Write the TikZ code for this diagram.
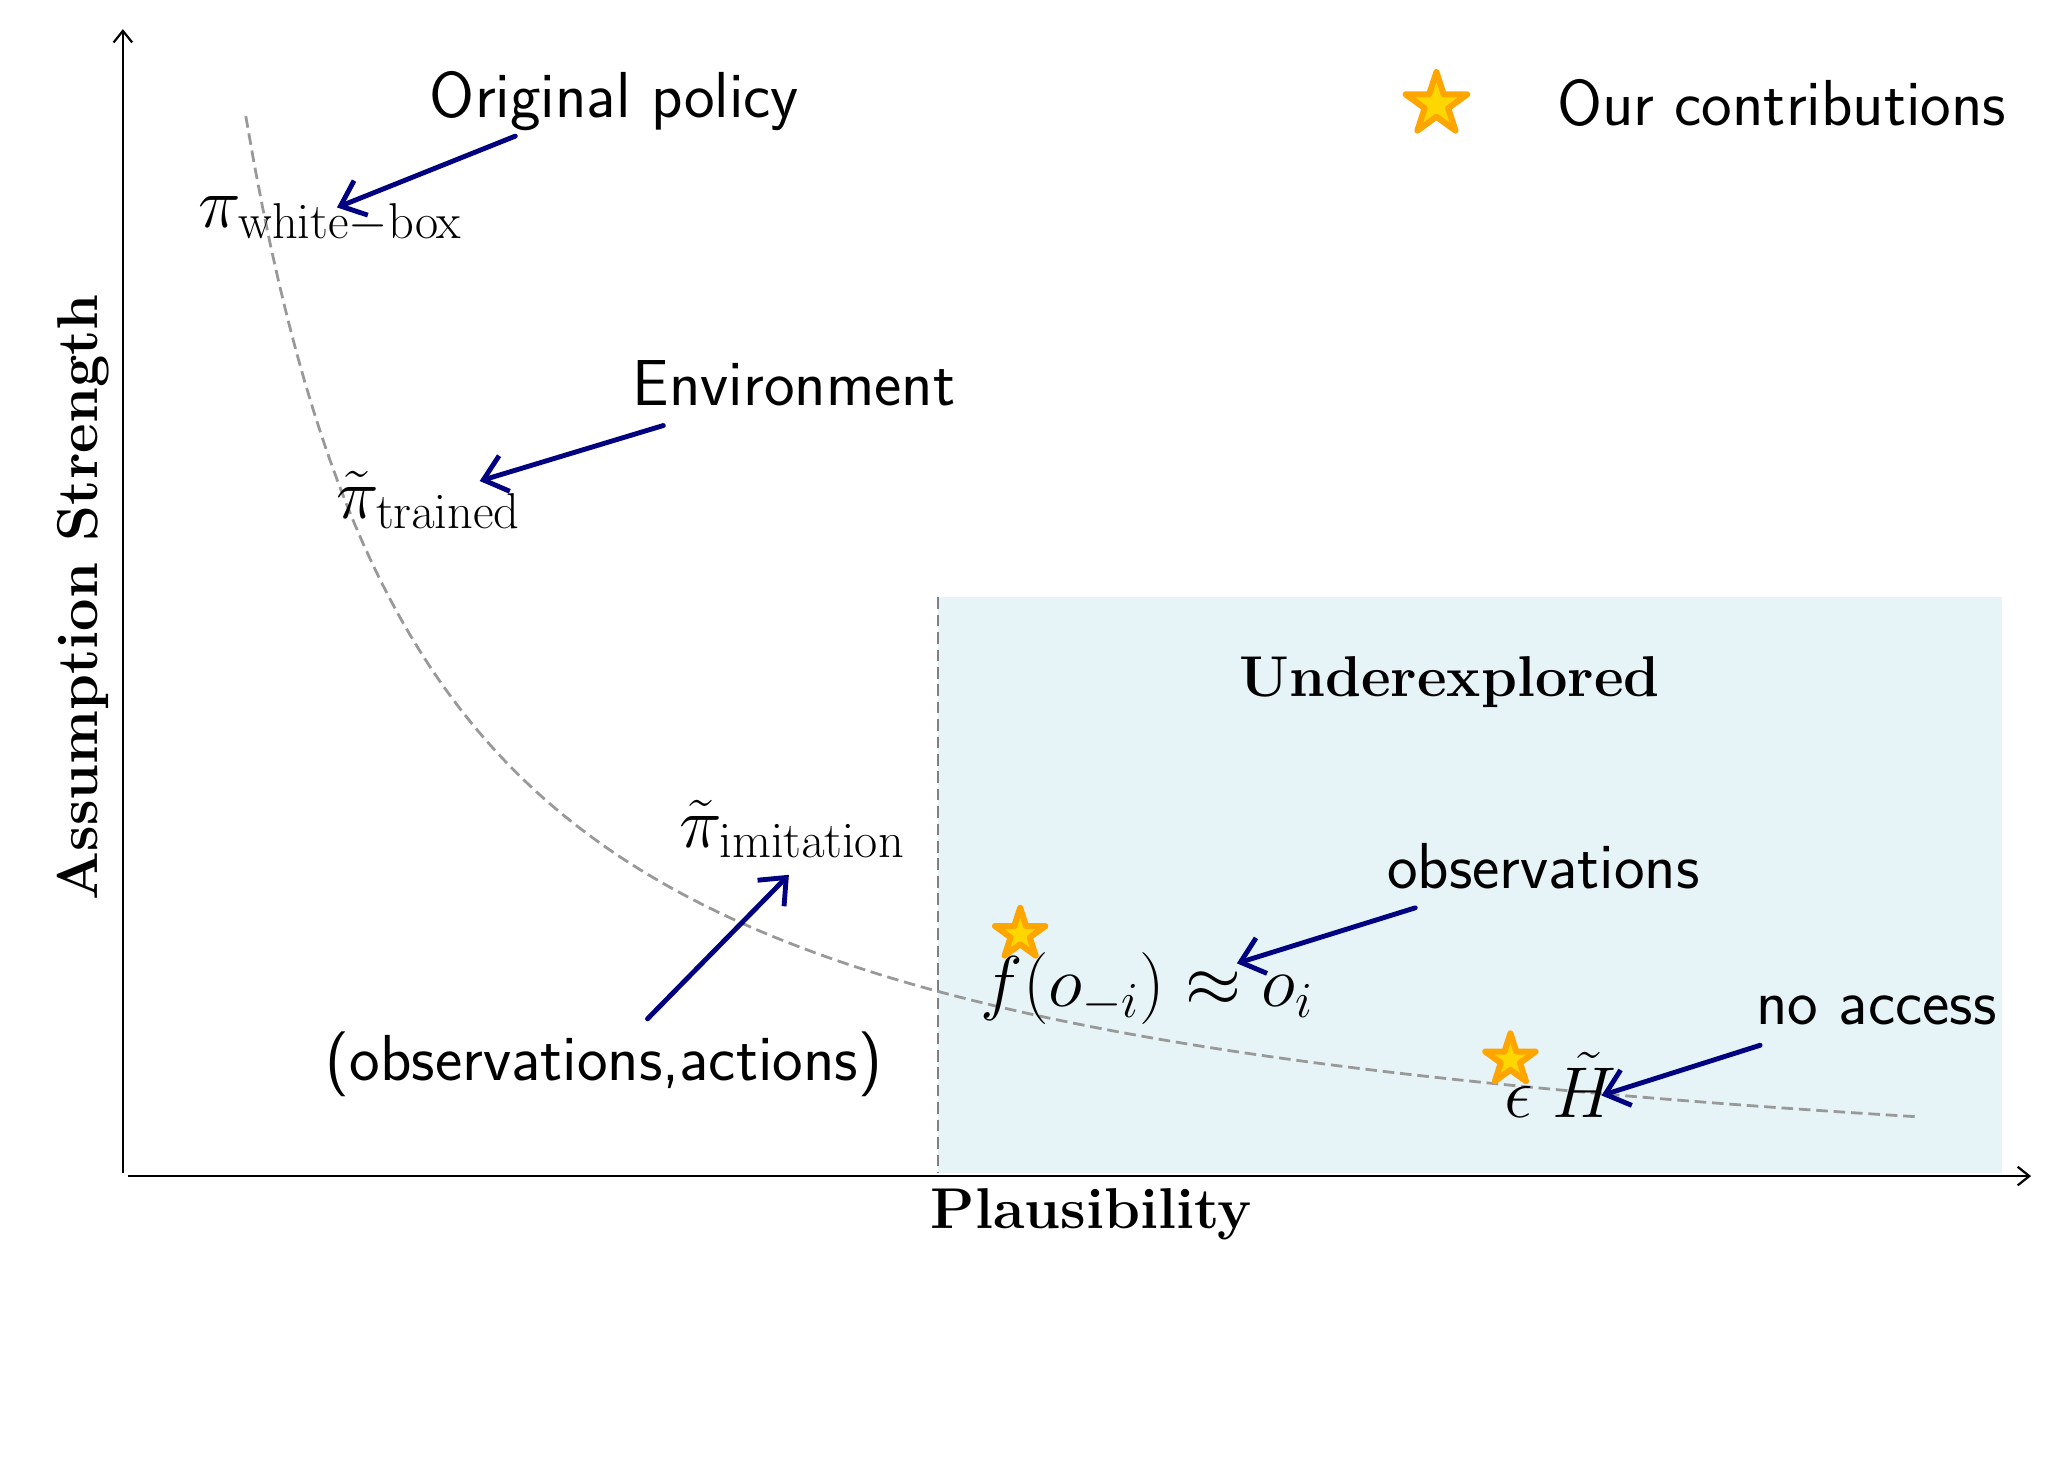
\RequirePackage{fix-cm}
\documentclass[tikz,border=0pt]{standalone}
\usetikzlibrary{arrows.meta,shapes.geometric}
\definecolor{navyc}{HTML}{000080}
\definecolor{shadec}{HTML}{E6F3F7}
\definecolor{curvegray}{HTML}{999999}
\definecolor{vgray}{HTML}{808080}
\definecolor{goldc}{HTML}{FFD700}
\definecolor{orangec}{HTML}{FFA500}
\tikzset{
  sanslab/.style={font=\fontsize{28}{32}\selectfont\sffamily, inner sep=0pt},
  mathlab/.style={font=\fontsize{31}{36}\selectfont, inner sep=0pt},
  boldlab/.style={font=\fontsize{24.8}{29}\selectfont\bfseries, inner sep=0pt},
  axisline/.style={line width=0.95pt, -{Straight Barb[length=5pt,width=8pt]}},
  callout/.style={navyc, line width=2.1pt, line cap=round, -{Straight Barb[length=9.5pt,width=16pt,line width=2.1pt]}},
  starmark/.style={star, star points=5, star point ratio=2.618, fill=goldc, draw=orangec, line width=2.6pt, line join=round, inner sep=0pt, minimum size=#1},
}
\begin{document}
\begin{tikzpicture}[x=0.02cm,y=-0.02cm]
\useasboundingbox (0,0) rectangle (1568,1102);
% shaded region
\fill[shadec] (710,452) rectangle (1515,888);
\draw[vgray, line width=1pt, dash pattern=on 5pt off 2.5pt] (710,452) -- (710,888);
% curve
\draw[curvegray, line width=1.2pt, dash pattern=on 5pt off 2.5pt, domain=186:1450, samples=200, variable=\t]
  plot ({\t},{930.4-1200.46/((\t-43.5)/100)});
% axes
\coordinate (o1) at (93,888);
\coordinate (ytop) at (93,22);
\coordinate (o2) at (97,890);
\coordinate (xend) at (1537,890);
\draw[axisline] (o1) -- (ytop);
\draw[axisline] (o2) -- (xend);
\node[boldlab, anchor=base] (plaus) at (826,930) {Plausibility};
\node[boldlab, anchor=base, rotate=90] (assump) at (74,452) {Assumption Strength};
% labels
\node[sanslab, anchor=base] (orig) at (465,89) {Original policy};
\node[mathlab, anchor=base west] (pwb) at (150,172) {$\pi_{\mathrm{white-box}}$};
\node[sanslab, anchor=base] (env) at (601,307) {Environment};
\node[mathlab, anchor=base west] (ptr) at (254,392) {$\tilde{\pi}_{\mathrm{trained}}$};
\node[mathlab, anchor=base west] (pim) at (514,641) {$\tilde{\pi}_{\mathrm{imitation}}$};
\node[sanslab, anchor=base] (obsact) at (457,818) {(observations,actions)};
\node[mathlab, anchor=base west] (fo) at (742,762) {$f(o_{-i}) \approx o_i$};
\node[sanslab, anchor=base] (obs) at (1168,672) {observations};
\node[sanslab, anchor=base] (noacc) at (1420,775) {no access};
\node[mathlab, anchor=base west] (eh) at (1138,846) {$\epsilon\;\tilde{H}$};
\node[boldlab, anchor=base] (under) at (1097,527) {Underexplored};
% stars
\node[starmark=0.8cm] (s1) at (772,707) {};
\node[starmark=0.8cm] (s2) at (1143,802) {};
\node[starmark=0.98cm] (s3) at (1087,79) {};
\node[sanslab, anchor=base west] (leg) at (1178,95) {Our contributions};
% callout arrows
\coordinate (a1t) at (390,103); \coordinate (a1h) at (255,157);
\coordinate (a2t) at (502,322); \coordinate (a2h) at (363,364);
\coordinate (a3t) at (490,771); \coordinate (a3h) at (597,662);
\coordinate (a4t) at (1071,687); \coordinate (a4h) at (936,729);
\coordinate (a5t) at (1332,791); \coordinate (a5h) at (1212,829);
\draw[callout] (a1t) -- (a1h);
\draw[callout] (a2t) -- (a2h);
\draw[callout] (a3t) -- (a3h);
\draw[callout] (a4t) -- (a4h);
\draw[callout] (a5t) -- (a5h);
\end{tikzpicture}
\end{document}
